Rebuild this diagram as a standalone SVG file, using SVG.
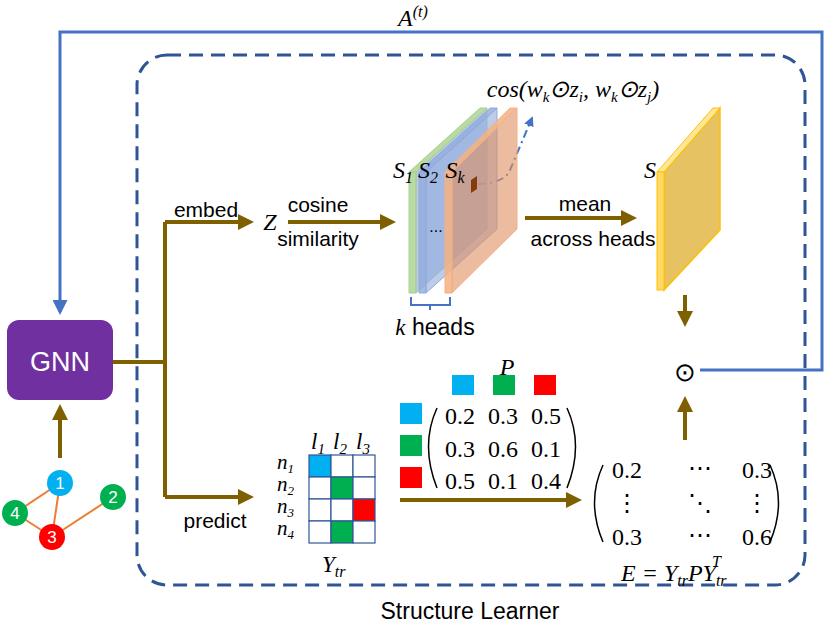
<svg xmlns="http://www.w3.org/2000/svg" width="835" height="628" viewBox="0 0 835 628">
<defs>
<marker id="ab" markerWidth="4" markerHeight="4" refX="3" refY="2" orient="auto" markerUnits="strokeWidth"><path d="M0,0 L4,2 L0,4 Z" fill="#7F6000"/></marker>
<marker id="abl" markerWidth="5" markerHeight="5" refX="4" refY="2.5" orient="auto" markerUnits="strokeWidth"><path d="M0,0 L5,2.5 L0,5 Z" fill="#4472C4"/></marker>
<style>
.br{stroke:#7F6000;stroke-width:4;fill:none}
.bl{stroke:#4472C4;stroke-width:3;fill:none}
.t{font-family:"Liberation Sans",Calibri,sans-serif;fill:#000}
.m{font-family:"Liberation Serif",serif;font-style:italic;fill:#000}
.n{font-family:"Liberation Serif",serif;fill:#000}
.e{stroke:#ED7D31;stroke-width:2}
.g{stroke:#2F5597;stroke-width:1.2;fill:#fff}
</style>
</defs>
<rect x="137" y="55" width="668" height="530" rx="30" fill="none" stroke="#2F5597" stroke-width="3" stroke-dasharray="14,8"/>
<g id="connectors">
<path class="bl" d="M700,370 H822 V32 H60 V312" marker-end="url(#abl)"/>
<path class="br" d="M113,362 H165 M165,222 V497"/>
<path class="br" d="M165,222 H250" marker-end="url(#ab)"/>
<path class="br" d="M165,497 H250" marker-end="url(#ab)"/>
<path class="br" d="M60,458 V408" marker-end="url(#ab)"/>
<path class="br" d="M288,222 H392" marker-end="url(#ab)"/>
<path class="br" d="M525,218 H633" marker-end="url(#ab)"/>
<path class="br" d="M685,295 V323" marker-end="url(#ab)"/>
<path class="br" d="M685,440 V400" marker-end="url(#ab)"/>
<path class="br" d="M400,500 H578" marker-end="url(#ab)"/>
<path d="M478,184 Q505,183 510,170 L532,118" stroke="#4472C4" stroke-width="2" fill="none" stroke-dasharray="8,4,2,4" marker-end="url(#abl)"/>
</g>
<text class="m" x="413" y="26" font-size="24" text-anchor="middle">A<tspan class="n" font-size="16" dy="-9">(</tspan><tspan font-size="16">t</tspan><tspan class="n" font-size="16">)</tspan></text>
<g id="gnn"><rect x="7" y="320" width="106" height="80" rx="12" fill="#7030A0"/><text class="t" x="60" y="371" font-size="27" style="fill:#fff" text-anchor="middle">GNN</text></g>
<g id="graph">
<line class="e" x1="60" y1="483" x2="15" y2="513"/><line class="e" x1="60" y1="483" x2="52" y2="537"/><line class="e" x1="15" y1="513" x2="52" y2="537"/><line class="e" x1="113" y1="497" x2="52" y2="537"/>
<circle cx="60" cy="483" r="13" fill="#00B0F0"/><circle cx="113" cy="497" r="13" fill="#00B050"/><circle cx="15" cy="513" r="13" fill="#00B050"/><circle cx="52" cy="537" r="13" fill="#FF0000"/>
<g class="t" font-size="17" text-anchor="middle"><text x="60" y="489" style="fill:#fff">1</text><text x="113" y="503" style="fill:#fff">2</text><text x="15" y="519" style="fill:#fff">4</text><text x="52" y="543" style="fill:#fff">3</text></g>
</g>
<text class="t" x="206" y="217" font-size="21" text-anchor="middle">embed</text>
<text class="t" x="215" y="528" font-size="21" text-anchor="middle">predict</text>
<text class="m" x="270" y="230" font-size="24" text-anchor="middle">Z</text>
<text class="t" x="318" y="212" font-size="21" text-anchor="middle">cosine</text>
<text class="t" x="318" y="246" font-size="21" text-anchor="middle">similarity</text>
<g id="slabs">
<g fill="#A9D18E" stroke="#A9D18E" fill-opacity="0.8"><polygon points="409,172 416,172 416,293 409,293"/><polygon points="409,172 480,108 487,108 416,172"/><polygon points="416,172 487,108 487,229 416,293" fill="#8FAADC" fill-opacity="0.6"/></g>
<g fill="#8FAADC" stroke="#8FAADC" fill-opacity="0.8"><polygon points="419,172 426,172 426,293 419,293"/><polygon points="419,172 490,108 497,108 426,172"/><polygon points="426,172 497,108 497,229 426,293" fill-opacity="0.6"/></g>
<g fill="#F4B183" stroke="#F4B183" fill-opacity="0.85"><polygon points="445,172 452,172 452,293 445,293"/><polygon points="445,172 510,108 517,108 452,172"/><polygon points="452,172 517,108 517,229 452,293" fill="#E09060" fill-opacity="0.6"/></g>
<polygon points="471,180 477,176 477,189 471,193" fill="#843C0C"/>
<text class="t" x="436" y="232" font-size="16" text-anchor="middle">...</text>
<text class="m" x="403" y="178" font-size="24" text-anchor="middle">S<tspan class="n" font-size="16" dy="5">1</tspan></text>
<text class="m" x="428" y="178" font-size="24" text-anchor="middle">S<tspan class="n" font-size="16" dy="5">2</tspan></text>
<text class="m" x="455" y="178" font-size="24" text-anchor="middle">S<tspan font-size="16" dy="5">k</tspan></text>
<path d="M411,297 V305 H450 V297 M430,305 V310" stroke="#4472C4" stroke-width="2" fill="none"/>
<text x="435" y="335" font-size="23" text-anchor="middle"><tspan class="m">k</tspan><tspan class="t"> heads</tspan></text>
<text class="m" x="573" y="97" font-size="24" text-anchor="middle"><tspan class="n">cos(</tspan>w<tspan font-size="15" dy="5">k</tspan><tspan dy="-5" class="n">⊙</tspan>z<tspan font-size="15" dy="5">i</tspan><tspan dy="-5" class="n">, </tspan>w<tspan font-size="15" dy="5">k</tspan><tspan dy="-5" class="n">⊙</tspan>z<tspan font-size="15" dy="5">j</tspan><tspan dy="-5" class="n">)</tspan></text>
</g>
<text class="t" x="585" y="211" font-size="21" text-anchor="middle">mean</text>
<text class="t" x="593" y="246" font-size="21" text-anchor="middle">across heads</text>
<g id="S">
<polygon points="664,172 720,108 720,230 664,290" fill="#E6C262" stroke="#FFC000" stroke-width="1.5"/>
<polygon points="657,172 664,172 720,108 713,108" fill="#FFE699" stroke="#FFC000"/>
<rect x="657" y="172" width="7" height="118" fill="#FFD966" stroke="#FFC000"/>
<text class="m" x="650" y="178" font-size="24" text-anchor="middle">S</text>
</g>
<g id="odot"><text class="n" x="685" y="381" font-size="26" text-anchor="middle">⊙</text></g>
<g id="P">
<text class="m" x="507" y="375" font-size="24" text-anchor="middle">P</text>
<rect x="452" y="375" width="22" height="20" fill="#00B0F0"/><rect x="493" y="375" width="22" height="20" fill="#00B050"/><rect x="534" y="375" width="22" height="20" fill="#FF0000"/>
<rect x="400" y="403" width="22" height="21" fill="#00B0F0"/><rect x="400" y="435" width="22" height="21" fill="#00B050"/><rect x="400" y="467" width="22" height="21" fill="#FF0000"/>
<path d="M437,408 Q420,445 437,488 M567,408 Q584,445 567,488" stroke="#000" stroke-width="1.5" fill="none"/>
<g class="n" font-size="24" text-anchor="middle">
<text x="460" y="424">0.2</text><text x="503" y="424">0.3</text><text x="546" y="424">0.5</text>
<text x="460" y="457">0.3</text><text x="503" y="457">0.6</text><text x="546" y="457">0.1</text>
<text x="460" y="489">0.5</text><text x="503" y="489">0.1</text><text x="546" y="489">0.4</text>
</g>
</g>
<g id="Ytr">
<rect class="g" x="309" y="455" width="22" height="22" style="fill:#00B0F0"/><rect class="g" x="331" y="455" width="22" height="22"/><rect class="g" x="353" y="455" width="22" height="22"/>
<rect class="g" x="309" y="477" width="22" height="22"/><rect class="g" x="331" y="477" width="22" height="22" style="fill:#00B050"/><rect class="g" x="353" y="477" width="22" height="22"/>
<rect class="g" x="309" y="499" width="22" height="22"/><rect class="g" x="331" y="499" width="22" height="22"/><rect class="g" x="353" y="499" width="22" height="22" style="fill:#FF0000"/>
<rect class="g" x="309" y="521" width="22" height="22"/><rect class="g" x="331" y="521" width="22" height="22" style="fill:#00B050"/><rect class="g" x="353" y="521" width="22" height="22"/>
<g class="m" font-size="23"><text x="311" y="449">l<tspan class="n" font-size="15" dy="5">1</tspan></text><text x="333" y="449">l<tspan class="n" font-size="15" dy="5">2</tspan></text><text x="356" y="449">l<tspan class="n" font-size="15" dy="5">3</tspan></text></g>
<g class="m" font-size="21"><text x="277" y="469">n<tspan class="n" font-size="13" dy="4">1</tspan></text><text x="277" y="491">n<tspan class="n" font-size="13" dy="4">2</tspan></text><text x="277" y="513">n<tspan class="n" font-size="13" dy="4">3</tspan></text><text x="277" y="535">n<tspan class="n" font-size="13" dy="4">4</tspan></text></g>
<text class="m" x="322" y="572" font-size="23">Y<tspan font-size="16" dy="5">tr</tspan></text>
</g>
<g id="E">
<path d="M603,465 Q586,502 603,542 M770,465 Q787,502 770,542" stroke="#000" stroke-width="1.5" fill="none"/>
<g class="n" font-size="24" text-anchor="middle">
<text x="627" y="478">0.2</text><text x="700" y="476">⋯</text><text x="757" y="478">0.3</text>
<text x="627" y="511">⋮</text><text x="700" y="511">⋱</text><text x="757" y="511">⋮</text>
<text x="627" y="545">0.3</text><text x="700" y="543">⋯</text><text x="757" y="545">0.6</text>
</g>
<text class="m" x="621" y="581" font-size="24">E <tspan class="n">=</tspan> Y<tspan font-size="16" dy="5">tr</tspan><tspan dy="-5">PY</tspan><tspan font-size="16" dy="5">tr</tspan></text>
<text class="m" x="712" y="567" font-size="16">T</text>
</g>
<text class="t" x="470" y="619" font-size="23" text-anchor="middle">Structure Learner</text>
</svg>
